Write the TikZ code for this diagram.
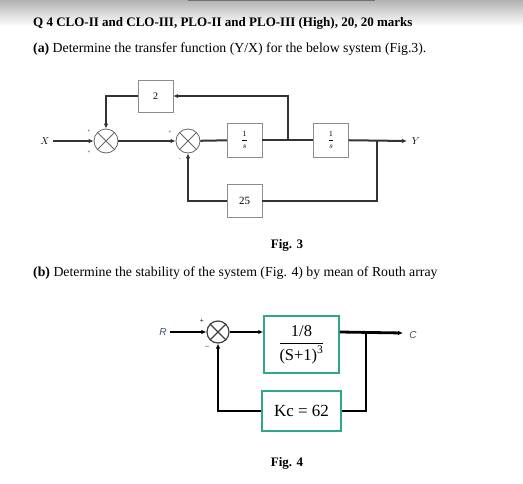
\documentclass[tikz,border=0pt]{standalone}
\usepackage{amsmath}
\usepackage{fontspec}
\setmainfont{Liberation Serif}
\newfontfamily\lblfont{Liberation Sans}
\usetikzlibrary{arrows.meta,positioning,calc}
\definecolor{boxgreen}{HTML}{2FA78A}
\definecolor{lblblue}{HTML}{3D4C6E}

\begin{document}
\begin{tikzpicture}[x=1pt,y=-1pt,>={Latex[length=5pt,width=4.5pt]},
  txt/.style={font=\fontsize{13.8}{16}\selectfont,anchor=base west,inner sep=0pt},
  sig/.style={line width=2pt,draw=black!80},
  sigb/.style={line width=2.8pt,draw=black},
  sj/.style={circle,draw=black!60,thick,minimum size=24pt,inner sep=0pt},
  sjb/.style={circle,draw=black!75,line width=1.2pt,minimum size=22pt,inner sep=0pt},
  blk/.style={draw=black!45,minimum width=35pt,minimum height=34pt,inner sep=0pt,font=\fontsize{10}{12}\selectfont},
  gblk/.style={draw=boxgreen,line width=1.5pt,inner sep=0pt,font=\fontsize{16.5}{18}\selectfont},
  sgn/.style={font=\tiny,inner sep=0pt}]
\useasboundingbox (0,0) rectangle (523,483);
\shade[top color=black!30,bottom color=white] (0,0) rectangle (523,26);
\draw[black!55,line width=1pt] (188,0.5) -- (375,0.5);

% question text
\node[txt,font=\fontsize{13}{15}\selectfont\bfseries] (q) at (33,26) {Q 4 CLO-II and CLO-III, PLO-II and PLO-III (High), 20, 20 marks};
\node[txt] (qa) at (33,52) {\textbf{(a)} Determine the transfer function (Y/X) for the below system (Fig.3).};

% Fig. 3
\node (x) at (45,141) {$X$};
\node[sj] (s1) at (106,141) {};
\node[sj] (s2) at (188,141) {};
\draw[black!60,thick] (s1.north west) -- (s1.south east) (s1.north east) -- (s1.south west);
\draw[black!60,thick] (s2.north west) -- (s2.south east) (s2.north east) -- (s2.south west);
\node[blk,font=\footnotesize] (int1) at (244.5,140) {$\dfrac{1}{s}$};
\node[blk,font=\footnotesize] (int2) at (331,140) {$\dfrac{1}{s}$};
\node[blk,minimum height=32pt] (k2) at (155.5,96) {2};
\node[blk,minimum height=33pt,font=\fontsize{11}{13}\selectfont] (k25) at (244.5,200.5) {25};
\coordinate (j1) at (288,141);
\coordinate (j2) at (377,141);
\coordinate (y) at (407,141);
\node (ylab) at (416,141) {$Y$};
\node[sgn] (p1) at (89,131) {+};
\node[sgn] (p2) at (89,152) {+};
\node[sgn] (p3) at (170,132) {+};
\node[sgn] (m1) at (180,160) {-};

\draw[sig,->] (x) -- (s1);
\draw[sig,->] (s1) -- (s2);
\draw[sig] (s2) -- (int1);
\draw[sig] (int1) -- (int2);
\draw[sig,->] (int2) -- (y);
\draw[sig,->] (j1) |- (k2);
\draw[sig,->] (k2) -| (s1);
\draw[sig] (j2) |- (k25);
\draw[sig,->] (k25) -| (s2);

\node[font=\fontsize{13}{15}\selectfont\bfseries] (f3) at (287,245) {Fig. 3};
\node[txt] (qb) at (33,276) {\textbf{(b)} Determine the stability of the system (Fig. 4) by mean of Routh array};

% Fig. 4
\node[font=\lblfont\itshape,text=lblblue] (r) at (163,332) {R};
\node[sjb] (s3) at (218,332) {};
\draw[black!75,line width=1.2pt] (s3.north west) -- (s3.south east) (s3.north east) -- (s3.south west);
\node[gblk,minimum width=75pt,minimum height=57pt] (g) at (301.5,344.5) {$\dfrac{\text{1/8}}{\text{(S+1)}^{\text{3}}}$};
\node[gblk,minimum width=79pt,minimum height=40pt,font=\fontsize{17}{19}\selectfont] (kc) at (301.5,411) {Kc = 62};
\coordinate (j3) at (366,333);
\coordinate (c) at (403,333);
\node[font=\lblfont\itshape,text=lblblue] (clab) at (413,335) {C};
\node[font=\footnotesize,inner sep=0pt] (p4) at (202,321) {+};
\node[font=\footnotesize,inner sep=0pt] (m2) at (207,347) {--};

\draw[sigb,->] (r) -- (s3);
\draw[sigb,->] (s3) -- (s3 -| g.west);
\draw[sigb,->] (s3 -| g.east) -- (c);
\draw[sigb] (j3) |- (kc);
\draw[sigb,->] (kc) -| (s3);

\node[font=\fontsize{13}{15}\selectfont\bfseries] (f4) at (287,463) {Fig. 4};
\end{tikzpicture}
\end{document}
